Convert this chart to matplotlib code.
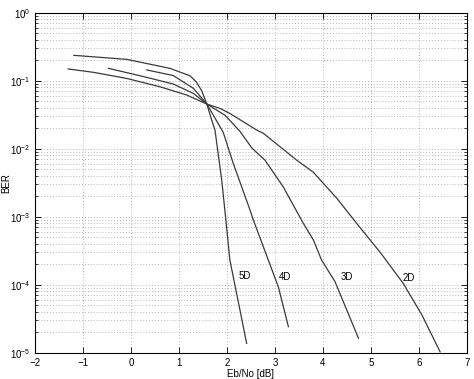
import numpy as np
import matplotlib
matplotlib.use("Agg")
import matplotlib.pyplot as plt
import matplotlib.ticker as ticker

plt.rcParams["font.family"] = ["Liberation Sans", "DejaVu Sans"]
plt.rcParams["mathtext.fontset"] = "custom"
plt.rcParams["mathtext.rm"] = "Liberation Sans"
plt.rcParams["mathtext.it"] = "Liberation Sans"

# Courbes BER (Eb/No en dB)
ebno_2d = [-1.31, -0.79, -0.09, 0.60, 1.16, 1.58, 1.86, 2.06, 2.62, 2.76, 3.45, 3.80, 4.29, 4.70, 5.19, 5.67, 6.06, 6.44]
ber_2d = [0.149, 0.133, 0.108, 0.0816, 0.0616, 0.0454, 0.039, 0.033, 0.0188, 0.0168, 6.8e-3, 4.5e-3, 1.86e-3, 8.0e-4, 3.0e-4, 1.05e-4, 3.6e-5, 1.03e-5]

ebno_3d = [-0.47, 0.26, 0.88, 1.30, 1.58, 1.96, 2.27, 2.52, 2.79, 3.17, 3.59, 3.80, 3.97, 4.25, 4.74]
ber_3d = [0.152, 0.115, 0.0894, 0.065, 0.0454, 0.031, 0.0180, 0.0102, 6.8e-3, 2.76e-3, 8.0e-4, 4.54e-4, 2.31e-4, 1.11e-4, 1.63e-5]

ebno_4d = [0.33, 0.88, 1.30, 1.58, 1.74, 1.92, 2.13, 2.48, 2.55, 2.86, 3.07, 3.28]
ber_4d = [0.144, 0.119, 0.0773, 0.0454, 0.029, 0.0175, 6.1e-3, 1.25e-3, 8.9e-4, 2.31e-4, 9.3e-5, 2.41e-5]

ebno_5d = [-1.19, -0.09, 0.81, 1.23, 1.36, 1.47, 1.58, 1.67, 1.75, 1.89, 1.98, 2.06, 2.27, 2.41]
ber_5d = [0.236, 0.206, 0.152, 0.118, 0.096, 0.072, 0.0454, 0.028, 0.0188, 3.47e-3, 8.5e-4, 2.31e-4, 4.25e-5, 1.37e-5]

labels = ["2D", "3D", "4D", "5D"]
label_x = [5.78, 4.49, 3.21, 2.38]
label_y = [1.24e-4, 1.28e-4, 1.31e-4, 1.34e-4]

fig = plt.figure(figsize=(4.74, 3.79), dpi=100)
ax = fig.add_axes([0.0738, 0.0694, 0.9114, 0.8971])

line_color = "#3a3a3a"
for xs, ys in [(ebno_2d, ber_2d), (ebno_3d, ber_3d), (ebno_4d, ber_4d), (ebno_5d, ber_5d)]:
    ax.semilogy(xs, ys, color=line_color, linewidth=0.9)

for lab, lx, ly in zip(labels, label_x, label_y):
    ax.text(lx, ly, lab, fontsize=7, ha="center", va="center", color="black")

ax.set_xlim(-2, 7)
ax.set_ylim(1e-5, 1)
ax.xaxis.set_major_locator(ticker.MultipleLocator(1))
ax.yaxis.set_major_locator(ticker.LogLocator(base=10, numticks=10))
ax.yaxis.set_minor_locator(ticker.LogLocator(base=10, subs=np.arange(2, 10), numticks=20))
ax.yaxis.set_minor_formatter(ticker.NullFormatter())

ax.grid(True, which="major", linestyle=(0, (1, 2.5)), color="#a0a0a0", linewidth=0.6)
ax.grid(True, which="minor", axis="y", linestyle=(0, (1, 2.5)), color="#a0a0a0", linewidth=0.6)

ax.tick_params(which="both", direction="in", top=True, right=True, labelsize=7)
ax.tick_params(which="major", length=4, width=0.6)
ax.tick_params(which="minor", length=2, width=0.5)
for sp in ax.spines.values():
    sp.set_linewidth(0.8)

ax.set_xlabel("Eb/No [dB]", fontsize=7, labelpad=1)
ax.set_ylabel("BER", fontsize=7)
ax.yaxis.set_label_coords(-0.055, 0.5)

fig.savefig("out.png", dpi=100)
